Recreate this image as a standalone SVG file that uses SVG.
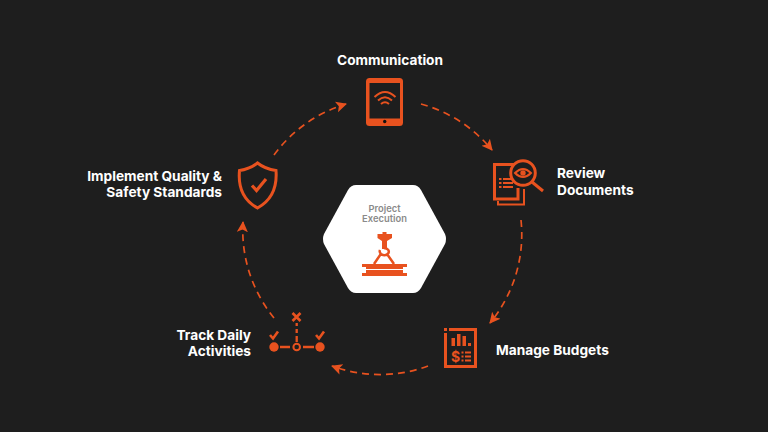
<svg xmlns="http://www.w3.org/2000/svg" width="768" height="432" viewBox="0 0 768 432">
<style>
.l{font-family:Inter,"Liberation Sans",sans-serif;font-weight:700;font-size:13.7px;fill:#fff}
.e{text-anchor:end}
.t{font-family:Inter,"Liberation Sans",sans-serif;font-weight:600;font-size:9.4px;fill:#8a8a8a;text-anchor:middle}
.c{fill:none;stroke:#e8521f;stroke-width:1.700;stroke-dasharray:7 5}
.s{fill:none;stroke:#e8521f;stroke-width:3}
.n{fill:none;stroke:#e8521f;stroke-width:2}
.f{fill:#e8521f}
</style>
<defs><marker id="a" markerWidth="13" markerHeight="12" refX="10" refY="5.500" orient="auto" markerUnits="userSpaceOnUse"><path d="M0 0L11 5.500L0 11L2.500 5.500Z" fill="#e8521f"/></marker></defs>
<rect width="768" height="432" fill="#1e1e1e"/>
<g id="connectors">
<path class="c" marker-end="url(#a)" d="M421 104A139 139 0 0 1 492 150"/>
<path class="c" marker-end="url(#a)" d="M521 220A139 139 0 0 1 490 323"/>
<path class="c" marker-end="url(#a)" d="M428 366A139 139 0 0 1 332 366"/>
<path class="c" marker-end="url(#a)" d="M274 318A139 139 0 0 1 243 222"/>
<path class="c" marker-end="url(#a)" d="M274 155A139 139 0 0 1 346 104"/>
</g>
<g id="center">
<path d="M356 185H413Q418 185 421 190L445 234Q447 239 445 244L421 288Q418 293 413 293H356Q351 293 348 288L324 244Q322 239 324 234L348 190Q351 185 356 185Z" fill="#fff"/>
<text class="t" x="384.500" y="211.500">Project</text>
<text class="t" x="384.500" y="221.500">Execution</text>
<path class="f" d="M382.500 232H386.500V234H392V238L387 241V249H382V241L377.500 238V234H382.500Z"/>
<path class="f" d="M362 264H407V267H403V269H366V267H362ZM366 270H403V273H407V276H362V273H366Z"/>
<path d="M384 248Q390 249 388.500 253Q385.500 257 381 254Q379 252 380 250M381.500 253L374 264M387 254L394 264" fill="none" stroke="#e8521f" stroke-width="2.500"/>
</g>
<g id="communication">
<text class="l" x="337" y="64.500">Communication</text>
<rect x="366" y="78" width="37" height="48" rx="3.500" class="f"/>
<rect x="369.500" y="83" width="30.500" height="35.500" fill="#1e1e1e"/>
<path d="M374.500 97Q385 87 395.500 97M378 100.500Q385 94 392 100.500M381 104Q385 100.500 389 104" fill="none" stroke="#e8521f" stroke-width="2"/>
<circle cx="384.700" cy="121.500" r="1.700" fill="#111"/>
</g>
<g id="review">
<text class="l" x="557" y="177.500">Review</text>
<text class="l" x="557" y="194.500">Documents</text>
<path class="s" d="M514 164.500H494.500V199H518V188"/>
<path class="n" d="M498 201V204.500H524V189"/>
<circle cx="523" cy="173" r="12.300" class="s"/>
<path class="s" d="M532 182L543 191"/>
<path d="M515 173Q523 165 531 173Q523 181 515 173Z" fill="none" stroke="#e8521f" stroke-width="2"/>
<circle cx="523" cy="173" r="2.700" class="f"/>
<path d="M499 179h2.500M503 179h10M499 183h2.500M503 183h10M499 187h2.500M503 187h10" stroke="#e8521f" stroke-width="1.800" fill="none"/>
</g>
<g id="budgets">
<text class="l" x="496" y="355">Manage Budgets</text>
<path class="s" d="M449 329.500H475.500V366.500H445.500V333"/>
<rect x="444" y="328" width="3" height="3" class="f"/>
<path class="f" d="M451.500 346h3.500v-8h-3.500ZM457 346h3.500v-12h-3.500ZM462.500 346h3.500v-10h-3.500ZM468 346h3v-3h-3Z"/>
<text x="451" y="362" style="font-family:Inter,'Liberation Sans',sans-serif;font-weight:700;font-size:14px;fill:#e8521f">$</text>
<path d="M461.500 352.500h2M465 352.500h6M461.500 356.500h2M465 356.500h6M461.500 360.500h2M465 360.500h6" stroke="#e8521f" stroke-width="1.800" fill="none"/>
</g>
<g id="track">
<text class="l e" x="251" y="340">Track Daily</text>
<text class="l e" x="251" y="355.500">Activities</text>
<circle cx="274" cy="347" r="4.700" class="f"/>
<circle cx="320" cy="347" r="4.700" class="f"/>
<circle cx="296.700" cy="347" r="3.300" fill="none" stroke="#e8521f" stroke-width="2"/>
<path d="M280 347h10M303 347h11M296.700 342v-6M296.700 333v-4M296.700 326v-3" stroke="#e8521f" stroke-width="2.300" fill="none"/>
<path d="M292.500 313L300.500 321M300.500 313L292.500 321M270 335L273 338.500L278 331.500M316 335L319 338.500L324 331.500" stroke="#e8521f" stroke-width="2.600" fill="none"/>
</g>
<g id="quality">
<text class="l e" x="222" y="181">Implement Quality &amp;</text>
<text class="l e" x="222" y="197">Safety Standards</text>
<path class="s" d="M257.500 163Q265 169 276 170.500Q278 197 257.500 208Q237 197 239.500 170.500Q250 169 257.500 163Z"/>
<path d="M252 185.500L256.500 190.500L266 179" stroke="#e8521f" stroke-width="3.200" fill="none"/>
</g>
</svg>
